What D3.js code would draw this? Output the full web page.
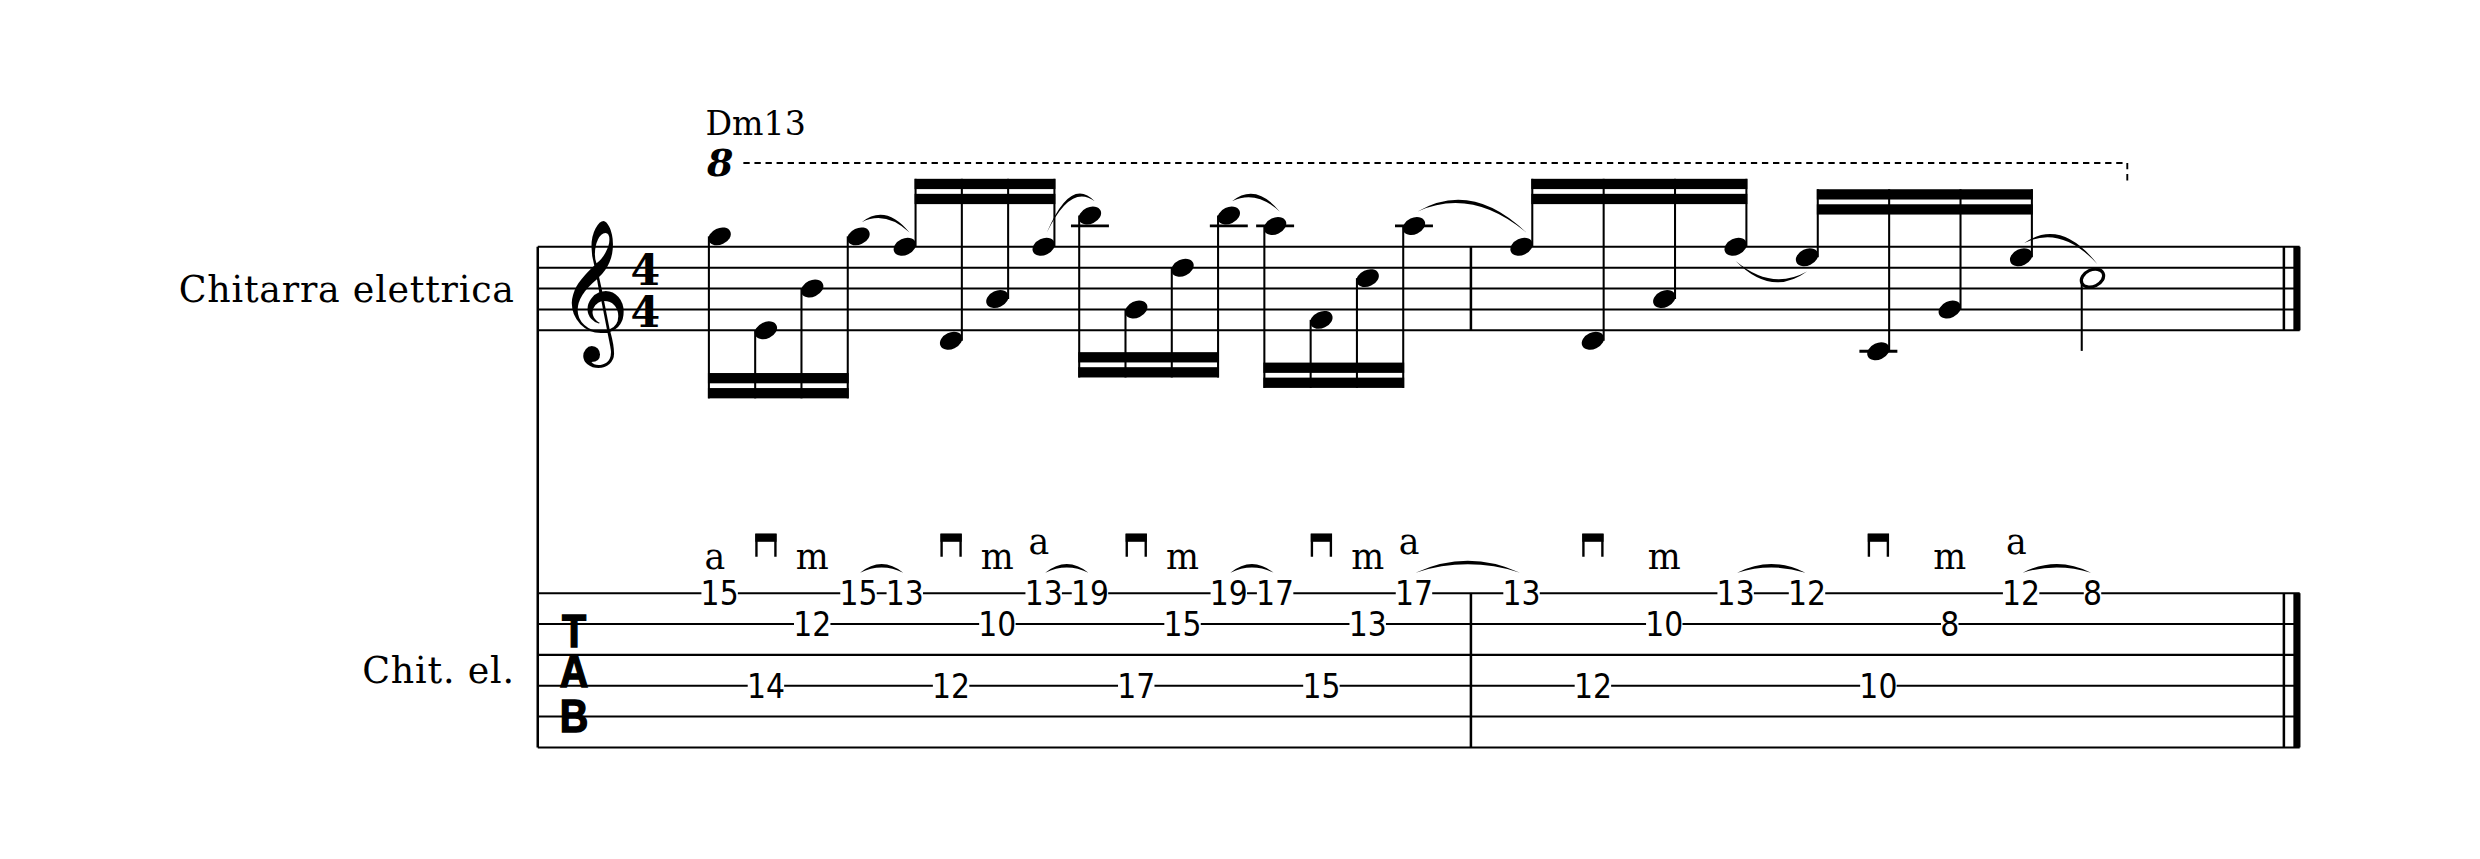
<!DOCTYPE html>
<html><head><meta charset="utf-8">
<script src="https://cdn.jsdelivr.net/npm/d3@7"></script>
<style>body{margin:0;background:#fff}</style>
</head><body>
<script>
// Notes: pitch (written), onset in sixteenths, string, fret
const pitches = ["G5","E4","B4","G5","F5","D4","A4","F5","B5","G4","D5","B5","A5","F4","C5","A5",
                 "F5","D4","A4","F5","E5","C4","G4","E5","C5"];
const onsets  = [0,1,2,3,4,5,6,7,8,9,10,11,12,13,14,15,16,17,18,19,20,21,22,23,24];
const strings = [1,4,2,1,1,4,2,1,1,4,2,1,1,4,2,1,1,4,2,1,1,4,2,1,1];
const frets   = [15,14,12,15,13,12,10,13,19,17,15,19,17,15,13,17,13,12,10,13,12,10,8,12,8];
// beam groups: [first note, last note, stem dir]
const groups  = [[0,3,"down"],[4,7,"up"],[8,11,"down"],[12,15,"down"],[16,19,"up"],[20,23,"up"]];
const slurs   = [[3,4],[7,8],[11,12],[15,16],[19,20],[23,24]];
const slurBelow = [19];
const fingers = [[0,"a"],[1,"bow"],[2,"m"],[5,"bow"],[6,"m"],[7,"a"],[9,"bow"],[10,"m"],[13,"bow"],[14,"m"],[15,"a"],
                 [17,"bow"],[18,"m"],[21,"bow"],[22,"m"],[23,"a"]];
const chordName = "Dm13";

const W = 1568, H = 543;
const svg = d3.select("body").append("svg").attr("width", 2480).attr("height", 859)
  .attr("viewBox", `0 0 ${W} ${H}`);

const x = d3.scaleLinear().domain([0, 15, 16, 24]).range([455, 894, 962, 1323]);
const letters = "CDEFGAB";
const step = p => letters.indexOf(p[0]) + 7 * (+p[1]) - (2 + 7 * 4); // E4 = 0
const y = d3.scaleLinear().domain([0, 8]).range([208.8, 156]);
const ty = d3.scaleLinear().domain([1, 6]).range([375, 472.5]);
const left = 340, right = 1454, barX = 930;
const serif = "'DejaVu Serif', 'Liberation Serif', serif";
const tabFont = "'Liberation Sans Narrow', 'DejaVu Sans Condensed', 'Liberation Sans', sans-serif";

// staff lines
[0, 2, 4, 6, 8].forEach(s => svg.append("line").attr("x1", left).attr("x2", right)
  .attr("y1", y(s)).attr("y2", y(s)).attr("stroke", "#000").attr("stroke-width", 1.3));
d3.range(1, 7).forEach(s => svg.append("line").attr("x1", left).attr("x2", right)
  .attr("y1", ty(s)).attr("y2", ty(s)).attr("stroke", "#000").attr("stroke-width", 1.3));
svg.append("line").attr("x1", left).attr("x2", left).attr("y1", y(8)).attr("y2", ty(6))
  .attr("stroke", "#000").attr("stroke-width", 1.6);
[[y(8), y(0)], [ty(1), ty(6)]].forEach(([a, b]) => {
  svg.append("line").attr("x1", barX).attr("x2", barX).attr("y1", a).attr("y2", b).attr("stroke", "#000").attr("stroke-width", 1.6);
  svg.append("line").attr("x1", 1444).attr("x2", 1444).attr("y1", a).attr("y2", b).attr("stroke", "#000").attr("stroke-width", 1.6);
  svg.append("rect").attr("x", 1450).attr("y", a).attr("width", 4.5).attr("height", b - a);
});

// labels
svg.append("text").attr("x", 325).attr("y", 191).attr("text-anchor", "end")
  .attr("font-family", serif).attr("font-size", 23).attr("textLength", 212).text("Chitarra elettrica");
svg.append("text").attr("x", 325).attr("y", 432).attr("text-anchor", "end")
  .attr("font-family", serif).attr("font-size", 23).attr("textLength", 96).text("Chit. el.");

// clef, time signature, TAB
svg.append("text").attr("x", 352).attr("y", 210).attr("font-family", "'DejaVu Sans'")
  .attr("font-size", 78).text("\u{1D11E}");
["4", "4"].forEach((t, i) => svg.append("text").attr("x", 408).attr("y", i ? 207 : 180)
  .attr("text-anchor", "middle").attr("font-family", serif).attr("font-weight", "bold")
  .attr("font-size", 27).text(t));
["T", "A", "B"].forEach((t, i) => svg.append("text").attr("x", 363).attr("y", 0)
  .attr("text-anchor", "middle").attr("font-family", "'Liberation Sans', 'Arial', sans-serif")
  .attr("font-weight", 900).attr("font-size", 25).attr("stroke", "#000").attr("stroke-width", 0.8)
  .attr("transform", `translate(0,${[409, 434, 463][i]}) scale(1,1.15)`).text(t));

// chord + 8va
svg.append("text").attr("x", 446).attr("y", 85).attr("font-family", serif).attr("font-size", 21).text(chordName);
svg.append("text").attr("x", 447).attr("y", 111).attr("font-family", serif).attr("font-style", "italic")
  .attr("font-weight", "bold").attr("font-size", 24).text("8");
svg.append("path").attr("d", "M470,103H1345V116").attr("fill", "none").attr("stroke", "#000")
  .attr("stroke-width", 1.2).attr("stroke-dasharray", "4,3");

// notes
const notes = pitches.map((p, i) => ({ p, s: step(p), x: x(onsets[i]), y: y(step(p)), i }));
notes.forEach(n => {
  for (let l = 10; l <= n.s; l += 2) svg.append("line").attr("x1", n.x - 12).attr("x2", n.x + 12)
    .attr("y1", y(l)).attr("y2", y(l)).attr("stroke", "#000").attr("stroke-width", 1.8);
  for (let l = -2; l >= n.s; l -= 2) svg.append("line").attr("x1", n.x - 12).attr("x2", n.x + 12)
    .attr("y1", y(l)).attr("y2", y(l)).attr("stroke", "#000").attr("stroke-width", 1.8);
  const half = n.i === 24;
  svg.append("ellipse").attr("cx", n.x).attr("cy", n.y).attr("rx", 7.4).attr("ry", 5.2)
    .attr("transform", `rotate(-25 ${n.x} ${n.y})`)
    .attr("fill", half ? "#fff" : "#000").attr("stroke", "#000").attr("stroke-width", half ? 2 : 0);
});
svg.append("line").attr("x1", notes[24].x - 6.8).attr("x2", notes[24].x - 6.8)
  .attr("y1", notes[24].y + 2).attr("y2", notes[24].y + 46).attr("stroke", "#000").attr("stroke-width", 1.3);

// beams and stems
groups.forEach(([a, b, dir]) => {
  const g = notes.slice(a, b + 1);
  const up = dir === "up";
  const by = up ? d3.min(g, d => d.y) - 43 : d3.max(g, d => d.y) + 43;
  const sx = d => up ? d.x + 6.8 : d.x - 6.8;
  g.forEach(n => svg.append("line").attr("x1", sx(n)).attr("x2", sx(n)).attr("y1", n.y)
    .attr("y2", by).attr("stroke", "#000").attr("stroke-width", 1.3));
  [0, 1].forEach(k => {
    const yy = up ? by + k * 9.5 : by - 6.5 - k * 9.5;
    svg.append("rect").attr("x", sx(g[0]) - 0.6).attr("y", yy)
      .attr("width", sx(g[g.length - 1]) - sx(g[0]) + 1.2).attr("height", 6.5);
  });
});

// slurs in notation
const arc = (x1, y1, x2, y2, h) => {
  const mx = (x1 + x2) / 2;
  return `M${x1},${y1} Q${mx},${Math.min(y1, y2) - h} ${x2},${y2} Q${mx},${Math.min(y1, y2) - h + 4.5} ${x1},${y1}Z`;
};
slurs.forEach(([a, b]) => {
  const n1 = notes[a], n2 = notes[b];
  if (slurBelow.includes(a)) {
    svg.append("path").attr("d", `M${n1.x},${n1.y + 9} Q${(n1.x + n2.x) / 2},${n1.y + 32} ${n2.x},${n2.y + 9} Q${(n1.x + n2.x) / 2},${n1.y + 28} ${n1.x},${n1.y + 9}Z`);
  } else {
    const h = (n2.x - n1.x) > 50 ? 16 : 12;
    svg.append("path").attr("d", arc(n1.x + 2, n1.y - 9, n2.x + 3, n2.y - 9, h + (Math.abs(n1.y - n2.y) > 8 ? 4 : 0)));
  }
});

// tab numbers
notes.forEach((n, i) => {
  const tx = n.x, tyy = ty(strings[i]);
  const t = svg.append("text").attr("x", tx).attr("y", tyy + 7.5).attr("text-anchor", "middle")
    .attr("font-family", tabFont).attr("font-size", 21).text(frets[i]);
  const bb = t.node().getBBox();
  svg.insert("rect", () => t.node()).attr("x", bb.x + 0.5).attr("y", tyy - 3).attr("width", bb.width - 1)
    .attr("height", 6).attr("fill", "#fff");
});
// tab slurs
slurs.forEach(([a, b]) => {
  const x1 = notes[a].x, x2 = notes[b].x;
  const h = (x2 - x1) > 50 ? 15 : 11;
  svg.append("path").attr("d", arc(x1 + 1, 362, x2 - 1, 362, h));
});

// fingering / bowing above tab
fingers.forEach(([i, f]) => {
  const fx = notes[i].x;
  if (f === "bow") {
    svg.append("path").attr("d", `M${fx - 6},${352} V${338} H${fx + 6} V${352}`).attr("fill", "none")
      .attr("stroke", "#000").attr("stroke-width", 1.5);
    svg.append("rect").attr("x", fx - 6.7).attr("y", 337.5).attr("width", 13.4).attr("height", 5);
  } else {
    const yy = f === "a" && [7, 15, 23].includes(i) ? 350 : 360;
    svg.append("text").attr("x", f === "a" ? fx - 3 : fx).attr("y", yy).attr("text-anchor", "middle")
      .attr("font-family", serif).attr("font-size", 22).text(f);
  }
});
</script>
</body></html>
